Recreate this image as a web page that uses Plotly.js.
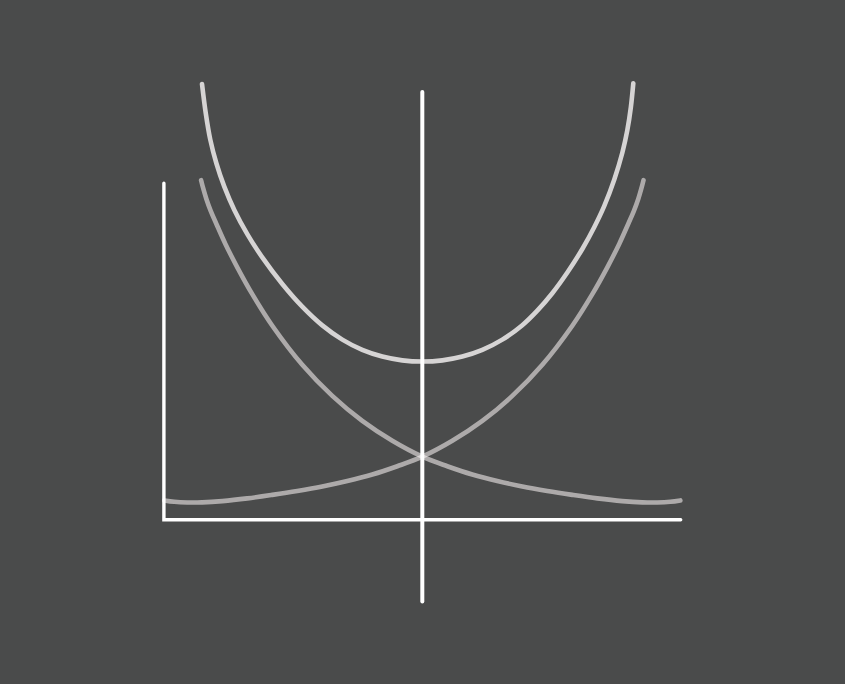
<!DOCTYPE html>
<html>
<head>
<meta charset="utf-8">
<script src="https://cdn.plot.ly/plotly-3.0.1.min.js"></script>
<style>
  html, body { margin: 0; padding: 0; background: #4a4b4b; }
  #chart { width: 845px; height: 684px; }
  .js-line { stroke-linecap: round; }
</style>
</head>
<body>
<div id="chart"></div>
<script>
// Upper U-shaped curve
const topX = [-3.410,-3.351,-3.282,-3.189,-3.065,-2.910,-2.709,-2.477,-2.167,-1.858,-1.548,-1.238,-0.929,-0.619,-0.310,0,0.310,0.619,0.929,1.238,1.548,1.780,2.012,2.245,2.477,2.663,2.817,2.972,3.096,3.173,3.228,3.266];
const topY = [6.916,6.446,6.033,5.662,5.286,4.916,4.532,4.163,3.741,3.381,3.084,2.858,2.695,2.589,2.529,2.510,2.529,2.589,2.695,2.858,3.087,3.318,3.595,3.924,4.297,4.646,4.981,5.400,5.824,6.179,6.545,6.927];

// Rising curve
const riseX = [-3.994,-3.839,-3.638,-3.406,-3.096,-2.709,-2.322,-1.935,-1.548,-1.161,-0.774,-0.387,0,0.464,0.929,1.393,1.858,2.322,2.632,2.864,3.050,3.189,3.274,3.344,3.390,3.424];
const riseY = [0.306,0.284,0.273,0.275,0.295,0.338,0.394,0.456,0.527,0.613,0.717,0.849,1.000,1.252,1.568,1.965,2.459,3.079,3.580,4.006,4.381,4.698,4.897,5.095,5.254,5.389];

// Falling curve
const fallX = [-3.424,-3.390,-3.344,-3.274,-3.189,-3.050,-2.864,-2.632,-2.322,-1.858,-1.393,-0.929,-0.464,0,0.387,0.774,1.161,1.548,1.935,2.322,2.709,3.096,3.406,3.638,3.839,3.994];
const fallY = [5.389,5.254,5.095,4.897,4.698,4.381,4.006,3.580,3.079,2.459,1.965,1.568,1.252,1.000,0.849,0.717,0.613,0.527,0.456,0.394,0.338,0.295,0.275,0.273,0.284,0.306];

// Axes
const frameX = [-4, -4, 4];
const frameY = [5.34, 0, 0];
const centerX = [0, 0];
const centerY = [6.79, -1.30];

const grayLine = { color: 'rgba(255,250,250,0.55)', width: 4.6, shape: 'spline', smoothing: 1, simplify: false };

const traces = [
  { x: riseX, y: riseY, mode: 'lines', line: grayLine, hoverinfo: 'skip' },
  { x: fallX, y: fallY, mode: 'lines', line: grayLine, hoverinfo: 'skip' },
  { x: topX, y: topY, mode: 'lines', line: { color: '#d6d4d4', width: 4.6, shape: 'spline', smoothing: 1, simplify: false }, hoverinfo: 'skip' },
  { x: frameX, y: frameY, mode: 'lines', line: { color: '#ffffff', width: 3.4 }, hoverinfo: 'skip' },
  { x: centerX, y: centerY, mode: 'lines', line: { color: '#ffffff', width: 4 }, hoverinfo: 'skip' }
];

const layout = {
  width: 845,
  height: 684,
  margin: { l: 0, r: 0, t: 0, b: 0, pad: 0 },
  paper_bgcolor: '#4a4b4b',
  plot_bgcolor: '#4a4b4b',
  showlegend: false,
  xaxis: { range: [-6.537, 6.543], visible: false, fixedrange: true },
  yaxis: { range: [-2.608, 8.249], visible: false, fixedrange: true }
};

Plotly.newPlot('chart', traces, layout, { displayModeBar: false, staticPlot: true });
</script>
</body>
</html>
